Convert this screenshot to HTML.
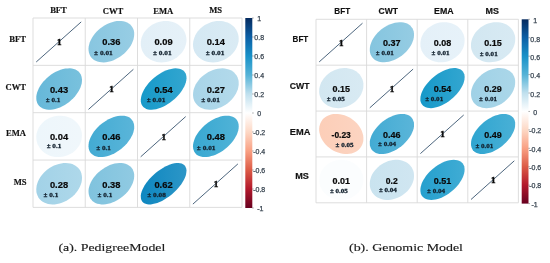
<!DOCTYPE html>
<html><head><meta charset="utf-8"><title>Correlation plots</title>
<style>
html,body{margin:0;padding:0;background:#fff;}
body{width:550px;height:263px;overflow:hidden;}
svg{display:block;}
.g{stroke:#d9d9d9;stroke-width:0.9;}
.dg{stroke:#4d667e;stroke-width:1;}
.tm{stroke:#555;stroke-width:0.6;}
.num{font-family:"Liberation Sans","DejaVu Sans",sans-serif;font-weight:bold;font-size:8.4px;fill:#0a0a0a;stroke:#0a0a0a;stroke-width:0.2;text-anchor:middle;}
.se{font-family:"Liberation Serif","DejaVu Serif",serif;font-weight:bold;font-size:7px;fill:#13222f;stroke:#13222f;stroke-width:0.3;text-anchor:middle;}
.one{font-family:"Liberation Serif","DejaVu Serif",serif;font-weight:bold;font-size:9.2px;fill:#0a0a0a;stroke:#0a0a0a;stroke-width:0.4;text-anchor:middle;}
.ls{font-family:"Liberation Serif","DejaVu Serif",serif;font-weight:bold;font-size:8.6px;fill:#111;stroke:#111;stroke-width:0.15;}
.lr{font-family:"Liberation Sans","DejaVu Sans",sans-serif;font-weight:bold;font-size:8.4px;fill:#111;stroke:#111;stroke-width:0.15;}
.tk{font-family:"Liberation Sans","DejaVu Sans",sans-serif;font-size:7px;fill:#3a4652;stroke:#3a4652;stroke-width:0.25;text-anchor:middle;}
.cap{font-family:"Liberation Serif","DejaVu Serif",serif;font-size:11.4px;fill:#1c1c1c;stroke:#1c1c1c;stroke-width:0.15;text-anchor:middle;}
</style></head><body>
<svg width="550" height="263" viewBox="0 0 550 263">
<defs><linearGradient id="cb" x1="0" y1="0" x2="0" y2="1"><stop offset="0%" stop-color="#052A5E"/><stop offset="10%" stop-color="#0C5FA5"/><stop offset="20%" stop-color="#1891C8"/><stop offset="30%" stop-color="#55B3D7"/><stop offset="40%" stop-color="#C0E0EE"/><stop offset="50%" stop-color="#FFFFFF"/><stop offset="60%" stop-color="#FDD8C5"/><stop offset="70%" stop-color="#F9A083"/><stop offset="80%" stop-color="#DC5B46"/><stop offset="90%" stop-color="#B2182B"/><stop offset="100%" stop-color="#67001F"/></linearGradient><linearGradient id="e0"><stop offset="0" stop-color="#88C6E0"/><stop offset="1" stop-color="#97CDE4"/></linearGradient>
<linearGradient id="e1"><stop offset="0" stop-color="#E2EFF7"/><stop offset="1" stop-color="#E6F1F8"/></linearGradient>
<linearGradient id="e2"><stop offset="0" stop-color="#D4E8F3"/><stop offset="1" stop-color="#DAEBF4"/></linearGradient>
<linearGradient id="e3"><stop offset="0" stop-color="#66B8D9"/><stop offset="1" stop-color="#79C1DD"/></linearGradient>
<linearGradient id="e4"><stop offset="0" stop-color="#1699C9"/><stop offset="1" stop-color="#33A6D0"/></linearGradient>
<linearGradient id="e5"><stop offset="0" stop-color="#A8D4E8"/><stop offset="1" stop-color="#B3DAEB"/></linearGradient>
<linearGradient id="e6"><stop offset="0" stop-color="#EDF6FB"/><stop offset="1" stop-color="#F0F7FB"/></linearGradient>
<linearGradient id="e7"><stop offset="0" stop-color="#43ABD3"/><stop offset="1" stop-color="#5AB5D9"/></linearGradient>
<linearGradient id="e8"><stop offset="0" stop-color="#38A8D1"/><stop offset="1" stop-color="#51B3D7"/></linearGradient>
<linearGradient id="e9"><stop offset="0" stop-color="#A2D2E7"/><stop offset="1" stop-color="#AED8EA"/></linearGradient>
<linearGradient id="e10"><stop offset="0" stop-color="#80C3DE"/><stop offset="1" stop-color="#90CAE2"/></linearGradient>
<linearGradient id="e11"><stop offset="0" stop-color="#0E87C0"/><stop offset="1" stop-color="#2C96C7"/></linearGradient>
<linearGradient id="e12"><stop offset="0" stop-color="#85C5DF"/><stop offset="1" stop-color="#95CCE3"/></linearGradient>
<linearGradient id="e13"><stop offset="0" stop-color="#E4F0F8"/><stop offset="1" stop-color="#E7F2F9"/></linearGradient>
<linearGradient id="e14"><stop offset="0" stop-color="#D2E7F1"/><stop offset="1" stop-color="#D8EAF3"/></linearGradient>
<linearGradient id="e15"><stop offset="0" stop-color="#D2E7F1"/><stop offset="1" stop-color="#D8EAF3"/></linearGradient>
<linearGradient id="e16"><stop offset="0" stop-color="#1699C9"/><stop offset="1" stop-color="#33A6D0"/></linearGradient>
<linearGradient id="e17"><stop offset="0" stop-color="#9FD1E6"/><stop offset="1" stop-color="#ABD7E9"/></linearGradient>
<linearGradient id="e18"><stop offset="0" stop-color="#FCCEB8"/><stop offset="1" stop-color="#FCD4C1"/></linearGradient>
<linearGradient id="e19"><stop offset="0" stop-color="#43ABD3"/><stop offset="1" stop-color="#5AB5D9"/></linearGradient>
<linearGradient id="e20"><stop offset="0" stop-color="#2FA5D0"/><stop offset="1" stop-color="#49B0D6"/></linearGradient>
<linearGradient id="e21"><stop offset="0" stop-color="#FBFDFE"/><stop offset="1" stop-color="#FBFDFE"/></linearGradient>
<linearGradient id="e22"><stop offset="0" stop-color="#C9E3EF"/><stop offset="1" stop-color="#D0E6F1"/></linearGradient>
<linearGradient id="e23"><stop offset="0" stop-color="#25A0CE"/><stop offset="1" stop-color="#40ACD4"/></linearGradient></defs>
<rect width="550" height="263" fill="#fff"/>
<line x1="36.2" y1="62.0" x2="81.2" y2="21.9" class="dg"/>
<text x="59.2" y="45.1" class="one">1</text>
<path d="M130.2 24.6L128.8 23.5L127.1 22.5L125.3 21.8L123.3 21.3L121.2 21.0L119.0 21.0L116.7 21.1L114.4 21.5L112.0 22.2L109.6 23.0L107.2 24.0L104.9 25.3L102.6 26.7L100.5 28.2L98.4 30.0L96.5 31.8L94.8 33.8L93.3 35.8L91.9 37.9L90.8 40.1L89.8 42.2L89.2 44.4L88.7 46.5L88.5 48.6L88.6 50.6L88.9 52.5L89.5 54.3L90.2 55.9L91.3 57.4L92.5 58.8L94.0 59.9L95.6 60.8L97.4 61.5L99.4 62.0L101.5 62.3L103.7 62.4L106.0 62.2L108.4 61.8L110.8 61.2L113.1 60.4L115.5 59.3L117.8 58.1L120.1 56.7L122.3 55.1L124.3 53.4L126.2 51.5L127.9 49.6L129.5 47.5L130.9 45.4L132.0 43.3L132.9 41.1L133.6 39.0L134.0 36.8L134.2 34.7L134.2 32.7L133.9 30.8L133.3 29.0L132.5 27.4L131.5 25.9Z" fill="url(#e0)"/>
<text x="111.3" y="45.0" class="num" textLength="18.2" lengthAdjust="spacingAndGlyphs">0.36</text>
<text x="103.4" y="54.7" class="se" textLength="18.7" lengthAdjust="spacingAndGlyphs">± 0.01</text>
<path d="M180.5 26.4L178.8 25.0L176.9 23.8L174.9 22.8L172.8 22.0L170.5 21.4L168.2 21.1L165.8 21.0L163.5 21.1L161.1 21.4L158.7 21.9L156.4 22.7L154.2 23.7L152.1 24.8L150.1 26.2L148.2 27.7L146.5 29.4L145.0 31.2L143.7 33.1L142.7 35.1L141.8 37.2L141.2 39.4L140.9 41.5L140.8 43.7L140.9 45.8L141.3 47.9L141.9 50.0L142.8 51.9L143.9 53.7L145.2 55.4L146.7 57.0L148.5 58.3L150.3 59.5L152.3 60.5L154.5 61.3L156.7 61.9L159.0 62.3L161.4 62.4L163.8 62.3L166.2 62.0L168.5 61.4L170.8 60.7L173.1 59.7L175.2 58.5L177.2 57.2L179.0 55.6L180.7 54.0L182.2 52.2L183.5 50.2L184.6 48.2L185.4 46.1L186.0 44.0L186.4 41.8L186.5 39.7L186.3 37.5L185.9 35.4L185.3 33.4L184.4 31.4L183.3 29.6L182.0 27.9Z" fill="url(#e1)"/>
<text x="163.5" y="45.0" class="num" textLength="18.2" lengthAdjust="spacingAndGlyphs">0.09</text>
<text x="162.3" y="55.1" class="se" textLength="18.7" lengthAdjust="spacingAndGlyphs">± 0.01</text>
<path d="M233.1 26.0L231.5 24.7L229.6 23.6L227.7 22.6L225.5 21.9L223.3 21.3L221.0 21.0L218.7 21.0L216.3 21.1L213.9 21.5L211.5 22.1L209.2 22.9L207.0 23.9L204.8 25.1L202.8 26.5L200.9 28.1L199.2 29.8L197.6 31.6L196.3 33.6L195.2 35.6L194.3 37.7L193.6 39.9L193.2 42.0L193.0 44.2L193.1 46.3L193.4 48.4L194.0 50.4L194.8 52.4L195.9 54.1L197.1 55.8L198.6 57.3L200.3 58.6L202.1 59.8L204.1 60.7L206.2 61.5L208.4 62.0L210.7 62.3L213.1 62.4L215.5 62.2L217.9 61.9L220.2 61.3L222.5 60.4L224.8 59.4L226.9 58.2L229.0 56.8L230.9 55.3L232.6 53.5L234.1 51.7L235.5 49.8L236.6 47.7L237.5 45.6L238.1 43.5L238.6 41.3L238.7 39.1L238.6 37.0L238.3 34.9L237.7 32.9L236.9 31.0L235.9 29.2L234.6 27.5Z" fill="url(#e2)"/>
<text x="215.8" y="45.0" class="num" textLength="18.2" lengthAdjust="spacingAndGlyphs">0.14</text>
<text x="215.0" y="54.7" class="se" textLength="18.7" lengthAdjust="spacingAndGlyphs">± 0.01</text>
<path d="M78.5 71.5L77.1 70.4L75.5 69.6L73.7 68.9L71.8 68.5L69.8 68.3L67.6 68.4L65.3 68.6L63.0 69.1L60.6 69.8L58.2 70.7L55.8 71.8L53.5 73.1L51.2 74.6L49.0 76.2L46.9 78.0L45.0 79.9L43.2 81.8L41.5 83.9L40.1 86.0L38.9 88.2L37.9 90.4L37.1 92.5L36.6 94.6L36.3 96.7L36.3 98.7L36.5 100.5L37.0 102.3L37.7 103.9L38.6 105.3L39.8 106.5L41.2 107.6L42.8 108.5L44.5 109.1L46.4 109.5L48.5 109.7L50.7 109.7L52.9 109.4L55.3 109.0L57.6 108.3L60.0 107.4L62.4 106.3L64.8 105.0L67.0 103.5L69.2 101.9L71.3 100.1L73.3 98.2L75.1 96.2L76.7 94.1L78.1 92.0L79.4 89.8L80.4 87.7L81.1 85.5L81.7 83.4L81.9 81.4L82.0 79.4L81.7 77.5L81.3 75.8L80.6 74.2L79.6 72.8Z" fill="url(#e3)"/>
<text x="59.0" y="92.6" class="num" textLength="18.2" lengthAdjust="spacingAndGlyphs">0.43</text>
<text x="53.1" y="101.8" class="se" textLength="14.7" lengthAdjust="spacingAndGlyphs">± 0.1</text>
<line x1="88.5" y1="109.4" x2="133.4" y2="69.3" class="dg"/>
<text x="111.5" y="92.4" class="one">1</text>
<path d="M183.7 70.8L182.4 69.9L181.0 69.2L179.3 68.7L177.5 68.4L175.5 68.3L173.4 68.5L171.2 68.9L168.9 69.5L166.5 70.3L164.2 71.3L161.8 72.6L159.4 74.0L157.1 75.5L154.8 77.2L152.7 79.1L150.6 81.0L148.7 83.1L147.0 85.2L145.5 87.3L144.1 89.5L143.0 91.7L142.1 93.8L141.4 95.9L141.0 97.9L140.8 99.8L140.8 101.6L141.2 103.2L141.7 104.7L142.5 106.1L143.6 107.2L144.8 108.1L146.3 108.9L147.9 109.4L149.8 109.7L151.7 109.7L153.8 109.6L156.1 109.2L158.3 108.6L160.7 107.7L163.1 106.7L165.5 105.5L167.9 104.1L170.2 102.5L172.4 100.8L174.6 99.0L176.6 97.0L178.5 95.0L180.2 92.9L181.8 90.7L183.1 88.5L184.3 86.4L185.2 84.2L185.9 82.2L186.3 80.2L186.5 78.2L186.4 76.5L186.1 74.8L185.5 73.3L184.7 72.0Z" fill="url(#e4)"/>
<text x="163.5" y="92.6" class="num" textLength="18.2" lengthAdjust="spacingAndGlyphs">0.54</text>
<text x="156.1" y="101.8" class="se" textLength="18.7" lengthAdjust="spacingAndGlyphs">± 0.01</text>
<path d="M234.1 72.5L232.5 71.3L230.8 70.3L228.9 69.5L226.9 68.9L224.7 68.5L222.5 68.3L220.2 68.4L217.8 68.7L215.4 69.2L213.0 69.9L210.7 70.9L208.4 72.0L206.2 73.4L204.0 74.9L202.1 76.5L200.2 78.3L198.6 80.2L197.1 82.2L195.8 84.3L194.8 86.4L194.0 88.6L193.4 90.8L193.1 92.9L193.0 95.0L193.2 97.1L193.6 99.0L194.3 100.9L195.2 102.6L196.3 104.1L197.7 105.5L199.2 106.8L200.9 107.8L202.8 108.6L204.9 109.2L207.0 109.6L209.3 109.7L211.6 109.7L213.9 109.4L216.3 108.9L218.7 108.1L221.1 107.2L223.4 106.0L225.6 104.7L227.7 103.2L229.7 101.5L231.5 99.7L233.2 97.8L234.6 95.8L235.9 93.7L236.9 91.6L237.8 89.4L238.3 87.3L238.7 85.1L238.7 83.0L238.6 81.0L238.1 79.0L237.5 77.2L236.6 75.5L235.4 73.9Z" fill="url(#e5)"/>
<text x="215.8" y="92.6" class="num" textLength="18.2" lengthAdjust="spacingAndGlyphs">0.27</text>
<text x="210.5" y="101.8" class="se" textLength="18.7" lengthAdjust="spacingAndGlyphs">± 0.01</text>
<path d="M75.6 121.4L73.9 120.0L72.0 118.8L69.9 117.7L67.7 116.9L65.5 116.3L63.2 115.9L60.8 115.7L58.4 115.7L56.0 116.0L53.7 116.5L51.4 117.2L49.2 118.1L47.1 119.2L45.1 120.5L43.3 122.0L41.7 123.7L40.2 125.4L39.0 127.3L38.0 129.3L37.2 131.4L36.6 133.5L36.3 135.7L36.3 137.9L36.5 140.0L36.9 142.1L37.6 144.2L38.6 146.1L39.7 148.0L41.1 149.7L42.6 151.3L44.4 152.7L46.3 154.0L48.3 155.0L50.5 155.9L52.8 156.5L55.1 156.9L57.5 157.1L59.9 157.0L62.2 156.8L64.6 156.3L66.9 155.6L69.1 154.6L71.2 153.5L73.2 152.2L75.0 150.7L76.6 149.1L78.0 147.3L79.3 145.4L80.3 143.4L81.1 141.3L81.6 139.2L81.9 137.0L82.0 134.9L81.8 132.7L81.3 130.6L80.6 128.6L79.7 126.6L78.5 124.7L77.2 123.0Z" fill="url(#e6)"/>
<text x="59.0" y="140.2" class="num" textLength="18.2" lengthAdjust="spacingAndGlyphs">0.04</text>
<text x="54.0" y="148.3" class="se" textLength="14.7" lengthAdjust="spacingAndGlyphs">± 0.1</text>
<path d="M130.9 118.7L129.6 117.6L128.0 116.8L126.3 116.2L124.4 115.8L122.4 115.7L120.2 115.7L117.9 116.0L115.6 116.5L113.2 117.3L110.9 118.2L108.5 119.3L106.1 120.7L103.8 122.2L101.6 123.8L99.5 125.6L97.5 127.5L95.7 129.5L94.0 131.6L92.6 133.7L91.3 135.9L90.3 138.1L89.5 140.2L88.9 142.3L88.6 144.4L88.5 146.3L88.7 148.2L89.1 149.9L89.8 151.4L90.7 152.9L91.8 154.1L93.2 155.1L94.7 155.9L96.5 156.5L98.4 156.9L100.4 157.1L102.6 157.0L104.8 156.7L107.1 156.2L109.5 155.5L111.9 154.5L114.3 153.4L116.6 152.1L118.9 150.6L121.1 148.9L123.3 147.1L125.2 145.2L127.1 143.2L128.7 141.1L130.2 139.0L131.4 136.8L132.5 134.7L133.3 132.5L133.8 130.4L134.2 128.4L134.2 126.4L134.0 124.6L133.6 122.9L132.9 121.3L132.0 119.9Z" fill="url(#e7)"/>
<text x="111.3" y="140.2" class="num" textLength="18.2" lengthAdjust="spacingAndGlyphs">0.46</text>
<text x="103.6" y="149.6" class="se" textLength="14.7" lengthAdjust="spacingAndGlyphs">± 0.1</text>
<line x1="140.7" y1="156.8" x2="185.7" y2="116.6" class="dg"/>
<text x="163.7" y="139.8" class="one">1</text>
<path d="M235.5 118.6L234.2 117.5L232.7 116.7L231.0 116.2L229.1 115.8L227.1 115.7L224.9 115.7L222.7 116.1L220.4 116.6L218.0 117.4L215.6 118.3L213.2 119.5L210.9 120.8L208.6 122.3L206.3 124.0L204.2 125.8L202.2 127.7L200.4 129.7L198.7 131.8L197.2 134.0L195.9 136.1L194.9 138.3L194.1 140.4L193.5 142.6L193.1 144.6L193.0 146.5L193.2 148.4L193.6 150.1L194.2 151.6L195.1 153.0L196.2 154.2L197.5 155.2L199.1 156.0L200.8 156.6L202.7 157.0L204.7 157.1L206.8 157.0L209.1 156.7L211.4 156.1L213.7 155.4L216.1 154.4L218.5 153.3L220.9 151.9L223.2 150.4L225.4 148.7L227.5 146.9L229.5 145.0L231.4 143.0L233.0 140.9L234.5 138.8L235.8 136.6L236.9 134.4L237.7 132.3L238.3 130.2L238.6 128.2L238.7 126.2L238.6 124.4L238.2 122.7L237.5 121.1L236.7 119.8Z" fill="url(#e8)"/>
<text x="215.8" y="140.2" class="num" textLength="18.2" lengthAdjust="spacingAndGlyphs">0.48</text>
<text x="206.2" y="149.8" class="se" textLength="18.7" lengthAdjust="spacingAndGlyphs">± 0.01</text>
<path d="M77.4 167.2L75.9 165.9L74.2 164.9L72.3 164.1L70.3 163.5L68.1 163.2L65.9 163.0L63.5 163.1L61.2 163.4L58.8 163.9L56.4 164.7L54.0 165.6L51.7 166.8L49.5 168.1L47.4 169.6L45.4 171.3L43.6 173.1L41.9 175.0L40.4 177.0L39.2 179.1L38.1 181.2L37.3 183.4L36.7 185.6L36.4 187.7L36.3 189.8L36.4 191.9L36.8 193.8L37.5 195.6L38.4 197.4L39.5 198.9L40.8 200.3L42.4 201.5L44.1 202.5L46.0 203.3L48.0 203.9L50.1 204.3L52.4 204.4L54.7 204.4L57.1 204.1L59.5 203.5L61.9 202.8L64.2 201.8L66.5 200.7L68.7 199.3L70.9 197.8L72.8 196.2L74.7 194.4L76.3 192.4L77.8 190.4L79.1 188.3L80.1 186.2L81.0 184.0L81.6 181.9L81.9 179.7L82.0 177.6L81.8 175.6L81.4 173.6L80.8 171.8L79.9 170.1L78.7 168.5Z" fill="url(#e9)"/>
<text x="59.0" y="187.9" class="num" textLength="18.2" lengthAdjust="spacingAndGlyphs">0.28</text>
<text x="50.9" y="196.7" class="se" textLength="14.7" lengthAdjust="spacingAndGlyphs">± 0.1</text>
<path d="M130.4 166.5L128.9 165.4L127.3 164.5L125.5 163.8L123.5 163.3L121.5 163.1L119.3 163.0L117.0 163.2L114.6 163.6L112.2 164.3L109.8 165.1L107.5 166.2L105.1 167.4L102.9 168.9L100.7 170.5L98.6 172.2L96.7 174.1L95.0 176.0L93.4 178.1L92.0 180.2L90.9 182.3L89.9 184.5L89.2 186.7L88.7 188.8L88.5 190.9L88.6 192.9L88.9 194.8L89.4 196.5L90.2 198.2L91.2 199.6L92.4 200.9L93.8 202.0L95.4 203.0L97.2 203.7L99.2 204.1L101.3 204.4L103.5 204.4L105.8 204.2L108.1 203.8L110.5 203.2L112.9 202.3L115.3 201.3L117.6 200.0L119.9 198.6L122.0 197.0L124.1 195.3L126.0 193.4L127.8 191.4L129.3 189.4L130.7 187.3L131.9 185.1L132.8 182.9L133.5 180.8L134.0 178.7L134.2 176.6L134.2 174.6L133.9 172.7L133.4 170.9L132.6 169.3L131.6 167.8Z" fill="url(#e10)"/>
<text x="111.3" y="187.9" class="num" textLength="18.2" lengthAdjust="spacingAndGlyphs">0.38</text>
<text x="104.9" y="196.7" class="se" textLength="14.7" lengthAdjust="spacingAndGlyphs">± 0.1</text>
<path d="M184.2 165.1L183.0 164.2L181.7 163.6L180.1 163.2L178.4 163.0L176.5 163.1L174.4 163.3L172.2 163.8L170.0 164.5L167.7 165.5L165.3 166.6L162.9 167.9L160.5 169.4L158.2 171.0L155.9 172.8L153.7 174.7L151.6 176.7L149.6 178.8L147.8 180.9L146.2 183.1L144.7 185.2L143.5 187.4L142.5 189.5L141.7 191.5L141.1 193.5L140.8 195.4L140.8 197.1L141.0 198.7L141.4 200.1L142.1 201.3L143.1 202.4L144.2 203.2L145.6 203.8L147.1 204.2L148.9 204.4L150.8 204.4L152.8 204.1L155.0 203.6L157.3 202.9L159.6 202.0L162.0 200.9L164.4 199.6L166.7 198.1L169.1 196.4L171.4 194.7L173.6 192.8L175.7 190.8L177.6 188.7L179.5 186.6L181.1 184.4L182.5 182.2L183.8 180.1L184.8 178.0L185.6 175.9L186.1 173.9L186.4 172.1L186.5 170.4L186.3 168.8L185.8 167.4L185.1 166.1Z" fill="url(#e11)"/>
<text x="163.5" y="187.9" class="num" textLength="18.2" lengthAdjust="spacingAndGlyphs">0.62</text>
<text x="156.6" y="197.2" class="se" textLength="18.7" lengthAdjust="spacingAndGlyphs">± 0.08</text>
<line x1="192.9" y1="204.1" x2="237.9" y2="163.9" class="dg"/>
<text x="216.0" y="187.1" class="one">1</text>
<line x1="33.00" y1="18.00" x2="33.00" y2="207.40" class="g"/>
<line x1="33.00" y1="18.00" x2="242.00" y2="18.00" class="g"/>
<line x1="85.25" y1="18.00" x2="85.25" y2="207.40" class="g"/>
<line x1="33.00" y1="65.35" x2="242.00" y2="65.35" class="g"/>
<line x1="137.50" y1="18.00" x2="137.50" y2="207.40" class="g"/>
<line x1="33.00" y1="112.70" x2="242.00" y2="112.70" class="g"/>
<line x1="189.75" y1="18.00" x2="189.75" y2="207.40" class="g"/>
<line x1="33.00" y1="160.05" x2="242.00" y2="160.05" class="g"/>
<line x1="242.00" y1="18.00" x2="242.00" y2="207.40" class="g"/>
<line x1="33.00" y1="207.40" x2="242.00" y2="207.40" class="g"/>
<text x="58.5" y="13.1" class="ls" text-anchor="middle">BFT</text>
<text x="26.0" y="42.4" class="ls" text-anchor="end">BFT</text>
<text x="113.0" y="14.4" class="ls" text-anchor="middle">CWT</text>
<text x="26.0" y="90.3" class="ls" text-anchor="end">CWT</text>
<text x="163.3" y="14.2" class="ls" text-anchor="middle">EMA</text>
<text x="26.0" y="135.8" class="ls" text-anchor="end">EMA</text>
<text x="215.6" y="13.1" class="ls" text-anchor="middle">MS</text>
<text x="26.6" y="185.0" class="ls" text-anchor="end">MS</text>
<rect x="245.30" y="18.00" width="7.00" height="190.00" fill="url(#cb)"/>
<line x1="252.30" y1="18.00" x2="253.60" y2="18.00" class="tm"/>
<text x="259.2" y="21.1" class="tk">1</text>
<line x1="252.30" y1="37.00" x2="253.60" y2="37.00" class="tm"/>
<text x="259.2" y="40.1" class="tk">0.8</text>
<line x1="252.30" y1="56.00" x2="253.60" y2="56.00" class="tm"/>
<text x="259.2" y="59.1" class="tk">0.6</text>
<line x1="252.30" y1="75.00" x2="253.60" y2="75.00" class="tm"/>
<text x="259.2" y="78.0" class="tk">0.4</text>
<line x1="252.30" y1="94.00" x2="253.60" y2="94.00" class="tm"/>
<text x="259.2" y="97.0" class="tk">0.2</text>
<line x1="252.30" y1="113.00" x2="253.60" y2="113.00" class="tm"/>
<text x="259.2" y="116.0" class="tk">0</text>
<line x1="252.30" y1="132.00" x2="253.60" y2="132.00" class="tm"/>
<text x="259.2" y="135.0" class="tk">-0.2</text>
<line x1="252.30" y1="151.00" x2="253.60" y2="151.00" class="tm"/>
<text x="259.2" y="154.0" class="tk">-0.4</text>
<line x1="252.30" y1="170.00" x2="253.60" y2="170.00" class="tm"/>
<text x="259.2" y="172.9" class="tk">-0.6</text>
<line x1="252.30" y1="189.00" x2="253.60" y2="189.00" class="tm"/>
<text x="259.2" y="191.9" class="tk">-0.8</text>
<line x1="252.30" y1="208.00" x2="253.60" y2="208.00" class="tm"/>
<text x="260.4" y="210.9" class="tk">-1</text>
<line x1="319.2" y1="61.9" x2="362.5" y2="23.2" class="dg"/>
<text x="341.4" y="45.6" class="one">1</text>
<path d="M410.2 25.6L408.8 24.5L407.2 23.6L405.5 23.0L403.6 22.5L401.6 22.2L399.4 22.2L397.2 22.4L394.9 22.8L392.6 23.4L390.3 24.2L388.0 25.2L385.7 26.4L383.6 27.8L381.5 29.3L379.5 31.0L377.6 32.8L375.9 34.7L374.4 36.7L373.1 38.7L372.0 40.8L371.1 42.9L370.4 45.0L370.0 47.0L369.8 49.1L369.8 51.0L370.1 52.8L370.6 54.6L371.4 56.1L372.4 57.6L373.6 58.8L375.0 59.9L376.6 60.8L378.3 61.5L380.2 62.0L382.2 62.3L384.4 62.3L386.6 62.1L388.9 61.7L391.2 61.1L393.5 60.3L395.8 59.3L398.1 58.1L400.2 56.7L402.3 55.2L404.3 53.5L406.2 51.7L407.9 49.8L409.4 47.8L410.7 45.8L411.8 43.7L412.7 41.6L413.4 39.5L413.8 37.4L414.0 35.4L414.0 33.5L413.7 31.6L413.2 29.9L412.4 28.3L411.4 26.9Z" fill="url(#e12)"/>
<text x="391.8" y="46.0" class="num" textLength="17.5" lengthAdjust="spacingAndGlyphs">0.37</text>
<text x="384.8" y="54.6" class="se" textLength="18.0" lengthAdjust="spacingAndGlyphs">± 0.01</text>
<path d="M458.8 27.5L457.1 26.1L455.3 25.0L453.3 24.0L451.3 23.2L449.1 22.7L446.8 22.3L444.5 22.2L442.2 22.3L439.9 22.6L437.6 23.1L435.4 23.8L433.2 24.7L431.2 25.9L429.3 27.2L427.5 28.6L425.9 30.2L424.4 32.0L423.2 33.8L422.2 35.8L421.4 37.8L420.8 39.9L420.5 42.0L420.4 44.1L420.5 46.2L420.9 48.2L421.5 50.2L422.4 52.1L423.5 53.8L424.8 55.5L426.2 57.0L427.9 58.3L429.7 59.5L431.7 60.5L433.7 61.2L435.9 61.8L438.2 62.2L440.5 62.3L442.8 62.2L445.1 61.9L447.4 61.4L449.6 60.7L451.8 59.7L453.8 58.6L455.7 57.3L457.5 55.8L459.1 54.2L460.6 52.5L461.8 50.6L462.8 48.7L463.6 46.7L464.2 44.6L464.5 42.5L464.6 40.4L464.5 38.3L464.1 36.3L463.5 34.3L462.6 32.4L461.5 30.6L460.2 29.0Z" fill="url(#e13)"/>
<text x="442.4" y="46.0" class="num" textLength="17.5" lengthAdjust="spacingAndGlyphs">0.08</text>
<text x="440.5" y="54.6" class="se" textLength="18.0" lengthAdjust="spacingAndGlyphs">± 0.01</text>
<path d="M509.9 27.0L508.3 25.7L506.5 24.6L504.6 23.7L502.6 23.0L500.4 22.5L498.2 22.2L495.9 22.2L493.6 22.3L491.3 22.7L489.0 23.3L486.7 24.1L484.6 25.1L482.5 26.3L480.5 27.6L478.7 29.2L477.0 30.8L475.5 32.6L474.2 34.5L473.1 36.5L472.2 38.5L471.6 40.6L471.1 42.7L471.0 44.8L471.0 46.9L471.3 48.9L471.9 50.8L472.7 52.7L473.7 54.4L474.9 56.0L476.3 57.5L477.9 58.7L479.7 59.8L481.6 60.8L483.6 61.5L485.8 62.0L488.0 62.2L490.3 62.3L492.6 62.1L494.9 61.8L497.2 61.2L499.5 60.4L501.6 59.4L503.7 58.2L505.7 56.8L507.5 55.3L509.2 53.7L510.7 51.9L512.0 50.0L513.1 48.0L514.0 46.0L514.6 43.9L515.1 41.8L515.2 39.7L515.2 37.6L514.9 35.6L514.3 33.7L513.5 31.8L512.5 30.1L511.3 28.5Z" fill="url(#e14)"/>
<text x="493.0" y="46.0" class="num" textLength="17.5" lengthAdjust="spacingAndGlyphs">0.15</text>
<text x="488.7" y="55.5" class="se" textLength="18.0" lengthAdjust="spacingAndGlyphs">± 0.01</text>
<path d="M358.1 72.9L356.5 71.6L354.7 70.5L352.8 69.6L350.8 68.9L348.6 68.4L346.4 68.1L344.1 68.0L341.8 68.2L339.5 68.6L337.2 69.2L334.9 70.0L332.8 71.0L330.7 72.1L328.7 73.5L326.9 75.0L325.2 76.7L323.7 78.5L322.4 80.4L321.3 82.3L320.4 84.4L319.8 86.5L319.3 88.6L319.2 90.7L319.2 92.7L319.5 94.8L320.1 96.7L320.9 98.5L321.9 100.3L323.1 101.9L324.5 103.3L326.1 104.6L327.9 105.7L329.8 106.6L331.8 107.3L334.0 107.8L336.2 108.1L338.5 108.2L340.8 108.0L343.1 107.6L345.4 107.1L347.7 106.3L349.8 105.3L351.9 104.1L353.9 102.7L355.7 101.2L357.4 99.5L358.9 97.7L360.2 95.9L361.3 93.9L362.2 91.8L362.8 89.8L363.3 87.7L363.4 85.6L363.4 83.5L363.1 81.5L362.5 79.5L361.7 77.7L360.7 75.9L359.5 74.3Z" fill="url(#e15)"/>
<text x="341.2" y="92.0" class="num" textLength="17.5" lengthAdjust="spacingAndGlyphs">0.15</text>
<text x="335.8" y="101.2" class="se" textLength="18.0" lengthAdjust="spacingAndGlyphs">± 0.05</text>
<line x1="369.8" y1="107.8" x2="413.1" y2="69.1" class="dg"/>
<text x="392.0" y="91.5" class="one">1</text>
<path d="M461.9 70.5L460.7 69.6L459.3 68.9L457.7 68.4L455.9 68.1L454.0 68.0L452.0 68.2L449.8 68.6L447.6 69.2L445.3 70.0L443.0 71.0L440.7 72.2L438.4 73.5L436.2 75.0L434.0 76.7L431.9 78.5L429.9 80.4L428.1 82.4L426.4 84.4L424.9 86.5L423.6 88.6L422.5 90.7L421.6 92.7L421.0 94.8L420.5 96.7L420.4 98.6L420.4 100.3L420.7 101.9L421.3 103.3L422.1 104.6L423.1 105.7L424.3 106.6L425.7 107.3L427.3 107.8L429.1 108.1L431.0 108.2L433.0 108.0L435.2 107.6L437.4 107.1L439.7 106.3L442.0 105.3L444.3 104.1L446.6 102.7L448.8 101.2L451.0 99.5L453.1 97.7L455.1 95.8L456.9 93.9L458.6 91.8L460.1 89.7L461.4 87.6L462.5 85.5L463.4 83.5L464.0 81.5L464.5 79.5L464.6 77.7L464.6 75.9L464.3 74.3L463.7 72.9L462.9 71.6Z" fill="url(#e16)"/>
<text x="442.4" y="92.0" class="num" textLength="17.5" lengthAdjust="spacingAndGlyphs">0.54</text>
<text x="434.2" y="101.0" class="se" textLength="18.0" lengthAdjust="spacingAndGlyphs">± 0.01</text>
<path d="M510.9 72.0L509.4 70.8L507.7 69.9L505.9 69.1L504.0 68.5L501.9 68.2L499.7 68.0L497.5 68.1L495.2 68.4L492.9 69.0L490.6 69.7L488.3 70.6L486.0 71.8L483.9 73.1L481.8 74.5L479.9 76.2L478.1 77.9L476.5 79.8L475.1 81.7L473.8 83.7L472.8 85.8L472.0 87.9L471.4 90.0L471.1 92.1L471.0 94.1L471.1 96.1L471.5 98.0L472.1 99.7L473.0 101.4L474.0 102.9L475.3 104.2L476.8 105.4L478.5 106.4L480.3 107.1L482.2 107.7L484.3 108.1L486.5 108.2L488.7 108.1L491.0 107.8L493.3 107.3L495.6 106.5L497.9 105.6L500.2 104.5L502.3 103.2L504.4 101.7L506.3 100.1L508.1 98.3L509.7 96.5L511.1 94.5L512.4 92.5L513.4 90.4L514.2 88.3L514.8 86.2L515.1 84.1L515.2 82.1L515.1 80.1L514.7 78.3L514.1 76.5L513.2 74.8L512.2 73.3Z" fill="url(#e17)"/>
<text x="493.0" y="92.0" class="num" textLength="17.5" lengthAdjust="spacingAndGlyphs">0.29</text>
<text x="488.1" y="101.0" class="se" textLength="18.0" lengthAdjust="spacingAndGlyphs">± 0.01</text>
<path d="M355.0 121.5L353.1 120.0L351.1 118.5L349.0 117.3L346.8 116.2L344.5 115.3L342.2 114.7L339.9 114.2L337.6 114.0L335.3 113.9L333.1 114.1L331.0 114.5L329.0 115.2L327.2 116.0L325.5 117.0L323.9 118.2L322.6 119.6L321.5 121.2L320.5 122.9L319.9 124.7L319.4 126.6L319.2 128.6L319.2 130.6L319.5 132.7L320.0 134.8L320.7 136.9L321.7 139.0L322.9 141.0L324.3 142.9L325.8 144.7L327.6 146.4L329.5 148.0L331.5 149.4L333.6 150.7L335.8 151.8L338.1 152.6L340.4 153.3L342.7 153.8L345.0 154.0L347.3 154.0L349.5 153.8L351.6 153.4L353.6 152.8L355.4 152.0L357.1 150.9L358.7 149.7L360.0 148.3L361.1 146.8L362.1 145.1L362.7 143.3L363.2 141.4L363.4 139.4L363.4 137.4L363.1 135.3L362.6 133.2L361.9 131.1L360.9 129.0L359.7 127.0L358.3 125.1L356.8 123.2Z" fill="url(#e18)"/>
<text x="341.2" y="138.0" class="num" textLength="19.2" lengthAdjust="spacingAndGlyphs">-0.23</text>
<text x="344.6" y="147.2" class="se" textLength="18.0" lengthAdjust="spacingAndGlyphs">± 0.05</text>
<path d="M410.8 116.8L409.5 115.8L408.0 115.0L406.3 114.5L404.5 114.1L402.5 113.9L400.4 114.0L398.3 114.3L396.0 114.8L393.7 115.5L391.4 116.4L389.1 117.5L386.8 118.8L384.6 120.2L382.4 121.8L380.4 123.6L378.5 125.4L376.7 127.4L375.1 129.4L373.7 131.4L372.5 133.5L371.5 135.6L370.7 137.7L370.1 139.8L369.8 141.7L369.8 143.6L369.9 145.4L370.4 147.1L371.0 148.6L371.9 150.0L373.0 151.1L374.3 152.1L375.8 152.9L377.5 153.5L379.3 153.9L381.3 154.1L383.4 154.0L385.5 153.7L387.8 153.2L390.1 152.5L392.4 151.6L394.7 150.5L397.0 149.2L399.2 147.8L401.4 146.2L403.4 144.4L405.3 142.6L407.1 140.6L408.7 138.6L410.1 136.5L411.3 134.4L412.3 132.3L413.1 130.3L413.7 128.2L414.0 126.2L414.0 124.4L413.9 122.6L413.4 120.9L412.8 119.4L411.9 118.0Z" fill="url(#e19)"/>
<text x="391.8" y="138.0" class="num" textLength="17.5" lengthAdjust="spacingAndGlyphs">0.46</text>
<text x="387.1" y="146.2" class="se" textLength="18.0" lengthAdjust="spacingAndGlyphs">± 0.04</text>
<line x1="420.4" y1="153.6" x2="463.7" y2="115.0" class="dg"/>
<text x="442.6" y="137.4" class="one">1</text>
<path d="M512.2 116.7L510.9 115.7L509.5 114.9L507.8 114.4L506.0 114.0L504.1 113.9L502.0 114.0L499.8 114.3L497.6 114.9L495.3 115.6L493.0 116.5L490.7 117.7L488.4 119.0L486.1 120.5L484.0 122.1L481.9 123.9L480.0 125.7L478.2 127.7L476.6 129.7L475.1 131.8L473.9 133.9L472.8 136.0L472.0 138.0L471.4 140.1L471.1 142.0L471.0 143.9L471.1 145.7L471.5 147.3L472.1 148.8L472.9 150.2L474.0 151.3L475.3 152.3L476.7 153.0L478.4 153.6L480.2 153.9L482.1 154.1L484.2 154.0L486.4 153.6L488.6 153.1L490.9 152.4L493.2 151.4L495.5 150.3L497.8 149.0L500.1 147.5L502.2 145.9L504.3 144.1L506.2 142.3L508.0 140.3L509.6 138.3L511.1 136.2L512.3 134.1L513.4 132.0L514.2 129.9L514.8 127.9L515.1 125.9L515.2 124.1L515.1 122.3L514.7 120.6L514.1 119.1L513.3 117.8Z" fill="url(#e20)"/>
<text x="493.0" y="138.0" class="num" textLength="17.5" lengthAdjust="spacingAndGlyphs">0.49</text>
<text x="484.4" y="147.7" class="se" textLength="18.0" lengthAdjust="spacingAndGlyphs">± 0.01</text>
<path d="M357.0 165.6L355.3 164.2L353.4 163.0L351.4 161.9L349.3 161.1L347.1 160.5L344.9 160.0L342.6 159.8L340.3 159.8L337.9 160.1L335.7 160.5L333.5 161.2L331.3 162.0L329.3 163.1L327.5 164.3L325.7 165.7L324.2 167.3L322.8 169.0L321.6 170.8L320.7 172.8L319.9 174.8L319.5 176.8L319.2 178.9L319.2 181.0L319.4 183.1L319.9 185.2L320.6 187.1L321.5 189.1L322.7 190.9L324.0 192.6L325.6 194.1L327.3 195.5L329.2 196.7L331.2 197.8L333.3 198.6L335.5 199.3L337.7 199.7L340.0 199.9L342.3 199.9L344.7 199.7L346.9 199.2L349.1 198.6L351.3 197.7L353.3 196.6L355.1 195.4L356.9 194.0L358.4 192.4L359.8 190.7L361.0 188.9L361.9 187.0L362.7 185.0L363.1 182.9L363.4 180.8L363.4 178.7L363.2 176.6L362.7 174.6L362.0 172.6L361.1 170.7L359.9 168.8L358.6 167.2Z" fill="url(#e21)"/>
<text x="341.2" y="184.0" class="num" textLength="17.5" lengthAdjust="spacingAndGlyphs">0.01</text>
<text x="338.9" y="193.1" class="se" textLength="18.0" lengthAdjust="spacingAndGlyphs">± 0.05</text>
<path d="M409.0 164.3L407.5 163.1L405.8 162.0L403.9 161.2L401.9 160.5L399.7 160.1L397.5 159.8L395.3 159.8L393.0 160.0L390.7 160.5L388.3 161.1L386.1 161.9L383.9 163.0L381.8 164.2L379.8 165.6L377.9 167.2L376.2 168.9L374.6 170.7L373.3 172.6L372.1 174.6L371.2 176.6L370.5 178.7L370.0 180.8L369.8 182.9L369.8 185.0L370.0 187.0L370.5 188.9L371.3 190.7L372.2 192.4L373.4 194.0L374.8 195.4L376.3 196.7L378.0 197.7L379.9 198.6L381.9 199.2L384.1 199.7L386.3 199.9L388.5 199.9L390.8 199.7L393.1 199.3L395.5 198.6L397.7 197.8L399.9 196.7L402.0 195.5L404.0 194.1L405.9 192.6L407.6 190.9L409.2 189.0L410.5 187.1L411.7 185.1L412.6 183.1L413.3 181.0L413.8 178.9L414.0 176.8L414.0 174.7L413.8 172.7L413.3 170.8L412.5 169.0L411.6 167.3L410.4 165.7Z" fill="url(#e22)"/>
<text x="391.8" y="184.0" class="num" textLength="11.9" lengthAdjust="spacingAndGlyphs">0.2</text>
<text x="387.9" y="191.7" class="se" textLength="18.0" lengthAdjust="spacingAndGlyphs">± 0.04</text>
<path d="M461.7 162.4L460.5 161.5L459.0 160.7L457.4 160.2L455.6 159.9L453.7 159.8L451.6 159.9L449.5 160.3L447.2 160.8L444.9 161.6L442.6 162.5L440.3 163.7L438.0 165.0L435.8 166.5L433.6 168.2L431.5 169.9L429.6 171.8L427.8 173.8L426.1 175.8L424.7 177.9L423.4 180.0L422.3 182.1L421.5 184.1L420.9 186.2L420.5 188.1L420.4 190.0L420.5 191.8L420.8 193.4L421.4 194.9L422.2 196.2L423.3 197.3L424.5 198.2L426.0 199.0L427.6 199.5L429.4 199.8L431.3 199.9L433.4 199.8L435.5 199.5L437.8 198.9L440.1 198.2L442.4 197.2L444.7 196.0L447.0 194.7L449.2 193.2L451.4 191.6L453.5 189.8L455.4 187.9L457.2 186.0L458.9 183.9L460.3 181.8L461.6 179.7L462.7 177.6L463.5 175.6L464.1 173.5L464.5 171.6L464.6 169.7L464.5 168.0L464.2 166.3L463.6 164.9L462.8 163.6Z" fill="url(#e23)"/>
<text x="442.4" y="184.0" class="num" textLength="17.5" lengthAdjust="spacingAndGlyphs">0.51</text>
<text x="436.0" y="193.1" class="se" textLength="18.0" lengthAdjust="spacingAndGlyphs">± 0.04</text>
<line x1="471.0" y1="199.5" x2="514.3" y2="160.8" class="dg"/>
<text x="493.2" y="183.3" class="one">1</text>
<line x1="316.00" y1="19.30" x2="316.00" y2="202.80" class="g"/>
<line x1="316.00" y1="19.30" x2="518.40" y2="19.30" class="g"/>
<line x1="366.60" y1="19.30" x2="366.60" y2="202.80" class="g"/>
<line x1="316.00" y1="65.17" x2="518.40" y2="65.17" class="g"/>
<line x1="417.20" y1="19.30" x2="417.20" y2="202.80" class="g"/>
<line x1="316.00" y1="111.05" x2="518.40" y2="111.05" class="g"/>
<line x1="467.80" y1="19.30" x2="467.80" y2="202.80" class="g"/>
<line x1="316.00" y1="156.93" x2="518.40" y2="156.93" class="g"/>
<line x1="518.40" y1="19.30" x2="518.40" y2="202.80" class="g"/>
<line x1="316.00" y1="202.80" x2="518.40" y2="202.80" class="g"/>
<text x="342.2" y="13.9" class="lr" text-anchor="middle" textLength="15.8" lengthAdjust="spacingAndGlyphs">BFT</text>
<text x="300.4" y="41.7" class="lr" text-anchor="middle" textLength="15.6" lengthAdjust="spacingAndGlyphs">BFT</text>
<text x="388.3" y="13.9" class="lr" text-anchor="middle" textLength="19.4" lengthAdjust="spacingAndGlyphs">CWT</text>
<text x="299.7" y="89.4" class="lr" text-anchor="middle" textLength="19.8" lengthAdjust="spacingAndGlyphs">CWT</text>
<text x="443.8" y="13.7" class="lr" text-anchor="middle" textLength="19.6" lengthAdjust="spacingAndGlyphs">EMA</text>
<text x="300.1" y="135.0" class="lr" text-anchor="middle" textLength="20.6" lengthAdjust="spacingAndGlyphs">EMA</text>
<text x="492.3" y="13.7" class="lr" text-anchor="middle" textLength="13.4" lengthAdjust="spacingAndGlyphs">MS</text>
<text x="302.0" y="179.4" class="lr" text-anchor="middle" textLength="13.7" lengthAdjust="spacingAndGlyphs">MS</text>
<rect x="521.70" y="19.30" width="6.80" height="184.30" fill="url(#cb)"/>
<line x1="528.50" y1="19.30" x2="529.80" y2="19.30" class="tm"/>
<text x="535.2" y="23.2" class="tk">1</text>
<line x1="528.50" y1="37.73" x2="529.80" y2="37.73" class="tm"/>
<text x="535.2" y="41.5" class="tk">0.8</text>
<line x1="528.50" y1="56.16" x2="529.80" y2="56.16" class="tm"/>
<text x="535.2" y="59.9" class="tk">0.6</text>
<line x1="528.50" y1="74.59" x2="529.80" y2="74.59" class="tm"/>
<text x="535.2" y="78.2" class="tk">0.4</text>
<line x1="528.50" y1="93.02" x2="529.80" y2="93.02" class="tm"/>
<text x="535.2" y="96.6" class="tk">0.2</text>
<line x1="528.50" y1="111.45" x2="529.80" y2="111.45" class="tm"/>
<text x="535.2" y="114.9" class="tk">0</text>
<line x1="528.50" y1="129.88" x2="529.80" y2="129.88" class="tm"/>
<text x="535.2" y="133.2" class="tk">-0.2</text>
<line x1="528.50" y1="148.31" x2="529.80" y2="148.31" class="tm"/>
<text x="535.2" y="151.6" class="tk">-0.4</text>
<line x1="528.50" y1="166.74" x2="529.80" y2="166.74" class="tm"/>
<text x="535.2" y="169.9" class="tk">-0.6</text>
<line x1="528.50" y1="185.17" x2="529.80" y2="185.17" class="tm"/>
<text x="535.2" y="188.3" class="tk">-0.8</text>
<line x1="528.50" y1="203.60" x2="529.80" y2="203.60" class="tm"/>
<text x="534.6" y="206.6" class="tk">-1</text>
<text x="111.9" y="251.4" class="cap" textLength="107" lengthAdjust="spacingAndGlyphs">(a). PedigreeModel</text>
<text x="406" y="251.2" class="cap" textLength="114" lengthAdjust="spacingAndGlyphs">(b). Genomic Model</text>
</svg>
</body></html>
